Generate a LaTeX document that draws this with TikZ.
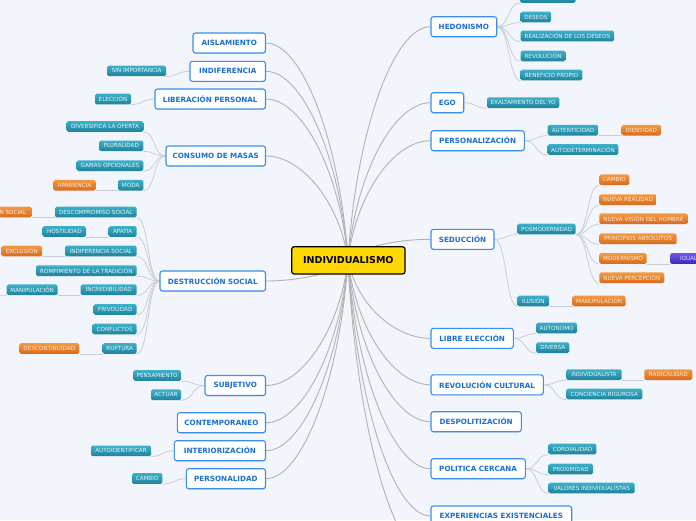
\documentclass[tikz,border=0pt]{standalone}
\usepackage{fontspec}
\usetikzlibrary{calc,shadows}
\newfontfamily\djv{DejaVu Sans}
\definecolor{bgcol}{HTML}{F2F5FC}
\definecolor{mborder}{HTML}{3B8EEA}
\definecolor{mtext}{HTML}{1B6ED6}
\definecolor{tealA}{HTML}{3DB0C9}
\definecolor{tealB}{HTML}{1F839C}
\definecolor{tealT}{HTML}{E6F4F8}
\definecolor{orA}{HTML}{F39A42}
\definecolor{orB}{HTML}{D86A1C}
\definecolor{orT}{HTML}{FDE8D4}
\definecolor{puA}{HTML}{6B57E8}
\definecolor{puB}{HTML}{3C25B5}
\definecolor{puT}{HTML}{E8E4FF}
\definecolor{gold}{HTML}{FFD800}
\definecolor{mline}{HTML}{B2B2B2}
\definecolor{sline}{HTML}{C8CDD7}
\pgfdeclarelayer{bg}
\pgfdeclarelayer{lines}
\pgfsetlayers{bg,lines,main}
\tikzset{
  mainbox/.style={draw=mborder, line width=1.1pt, fill=white, rounded corners=2.5pt,
    inner sep=0pt, minimum height=20pt, text=mtext,
    font=\djv\bfseries\fontsize{7.2}{8}\selectfont,
    drop shadow={opacity=0.18, shadow xshift=0.4pt, shadow yshift=-0.9pt}},
  centerbox/.style={draw=black, line width=1.2pt, fill=gold, rounded corners=2.5pt,
    inner sep=0pt, minimum height=27.3pt, minimum width=113.3pt, text=black,
    font=\djv\bfseries\fontsize{9.5}{11}\selectfont},
  subbox/.style={rounded corners=1.6pt, inner sep=0pt, minimum height=10.7pt,
    font=\djv\fontsize{5.65}{6.5}\selectfont},
  tealbox/.style={subbox, top color=tealA, bottom color=tealB, text=tealT},
  orbox/.style={subbox, top color=orA, bottom color=orB, text=orT},
  pubox/.style={subbox, top color=puA, bottom color=puB, text=puT},
  mainline/.style={draw=mline, line width=0.9pt},
  subline/.style={draw=sline, line width=0.8pt}
}
\newcommand\Lc[2]{\draw[subline] (#1.west) .. controls ($(#1.west)+(-12,0)$) and ($(#2.south east)+(12,0)$) .. (#2.south east);}
\newcommand\Rc[2]{\draw[subline] (#1.east) .. controls ($(#1.east)+(12,0)$) and ($(#2.south west)+(-12,0)$) .. (#2.south west);}
\newcommand\Pc[2]{\draw[subline] (#1.south east) .. controls ($(#1.south east)+(12,0)$) and ($(#2.south west)+(-12,0)$) .. (#2.south west);}
\newcommand\Ls[2]{\draw[subline] (#1.south west) -- (#2.south east);}
\newcommand\Rs[2]{\draw[subline] (#1.south east) -- (#2.south west);}
\begin{document}
\begin{tikzpicture}[x=1pt,y=-1pt]
\useasboundingbox (0,0) rectangle (696,520);
\begin{pgfonlayer}{bg}
\fill[bgcol] (0,0) rectangle (696,520);
\end{pgfonlayer}
% center
\coordinate (ctr) at (348,260);
\node[centerbox] (center) at (348.35,260.35) {INDIVIDUALISMO};
% left main nodes
\node[mainbox, minimum width=72.5pt] (aisl) at (229.25,43) {AISLAMIENTO};
\node[mainbox, minimum width=75.5pt] (indif) at (227.75,71.3) {INDIFERENCIA};
\node[mainbox, minimum width=110.5pt] (liber) at (210.25,99) {LIBERACIÓN PERSONAL};
\node[mainbox, minimum width=99.5pt] (consumo) at (215.75,156) {CONSUMO DE MASAS};
\node[mainbox, minimum width=105.5pt] (destr) at (212.75,281) {DESTRUCCIÓN SOCIAL};
\node[mainbox, minimum width=60.5pt] (subj) at (235.25,385.5) {SUBJETIVO};
\node[mainbox, minimum width=88.2pt] (contemp) at (221.4,422.7) {CONTEMPORANEO};
\node[mainbox, minimum width=91.2pt] (interior) at (219.9,450.7) {INTERIORIZACIÓN};
\node[mainbox, minimum width=79.2pt] (personal) at (225.9,478.7) {PERSONALIDAD};
% right main nodes
\node[mainbox, minimum width=65.7pt] (hedon) at (463.85,26.7) {HEDONISMO};
\node[mainbox, minimum width=32.7pt] (ego) at (447.35,102.7) {EGO};
\node[mainbox, minimum width=93.3pt] (persz) at (477.65,140.7) {PERSONALIZACIÓN};
\node[mainbox, minimum width=63pt] (seduc) at (462.5,239.3) {SEDUCCIÓN};
\node[mainbox, minimum width=82.3pt] (libre) at (472.15,338.3) {LIBRE ELECCIÓN};
\node[mainbox, minimum width=112.3pt] (revol) at (487.15,384.8) {REVOLUCIÓN CULTURAL};
\node[mainbox, minimum width=90.3pt] (despol) at (476.15,421.7) {DESPOLITIZACIÓN};
\node[mainbox, minimum width=94.3pt] (polit) at (478.15,468.7) {POLITICA CERCANA};
\node[mainbox, minimum width=140.7pt] (exper) at (501.35,516) {EXPERIENCIAS EXISTENCIALES};
\coordinate (offb) at (431,560);
% left sub nodes
\node[tealbox, minimum width=58.7pt] (sinimp) at (136.65,70.85) {SIN IMPORTANCIA};
\node[tealbox, minimum width=36pt] (elecc) at (113,99) {ELECCIÓN};
\node[tealbox, minimum width=76.6pt] (divers) at (105,126.5) {DIVERSIFICA LA OFERTA};
\node[tealbox, minimum width=44pt] (plural) at (121.3,145.85) {PLURALIDAD};
\node[tealbox, minimum width=66.6pt] (gamas) at (110,165.65) {GAMAS OPCIONALES};
\node[tealbox, minimum width=25.3pt] (moda) at (130.65,185.2) {MODA};
\node[orbox, minimum width=42.4pt] (apar) at (74.5,185.2) {APARIENCIA};
\node[tealbox, minimum width=81.7pt] (descomp) at (95.85,212) {DESCOMPROMISO SOCIAL};
\node[orbox, minimum width=84pt] (nsoc) at (-10.3,212) {DESINTEGRACIÓN SOCIAL};
\node[tealbox, minimum width=43.3pt] (hostil) at (64.35,231.5) {HOSTILIDAD};
\node[tealbox, minimum width=28pt] (apatia) at (122.7,231.5) {APATIA};
\node[orbox, minimum width=40.3pt] (exclu) at (21.85,251) {EXCLUSIÓN};
\node[tealbox, minimum width=71.7pt] (indsoc) at (100.85,251) {INDIFERENCIA SOCIAL};
\node[tealbox, minimum width=100.7pt] (rompi) at (86.35,270.65) {ROMPIMIENTO DE LA TRADICIÓN};
\node[tealbox, minimum width=51pt] (manip) at (32.2,289.8) {MANIPULACIÓN};
\node[tealbox, minimum width=56pt] (incred) at (108.7,289.8) {INCREDIBILIDAD};
\coordinate (offl) at (-30,295.15);
\node[tealbox, minimum width=43pt] (frivol) at (115.2,309.5) {FRIVOLIDAD};
\node[tealbox, minimum width=44pt] (confl) at (114.7,329) {CONFLICTOS};
\node[tealbox, minimum width=34pt] (ruptura) at (119.7,348.5) {RUPTURA};
\node[orbox, minimum width=60pt] (descont) at (49.3,348.5) {DESCONTINUIDAD};
\node[tealbox, minimum width=47.7pt] (pensam) at (157.15,375.5) {PENSAMIENTO};
\node[tealbox, minimum width=30pt] (actuar) at (166,394.8) {ACTUAR};
\node[tealbox, minimum width=60pt] (autoid) at (121,450.85) {AUTOIDENTIFICAR};
\node[tealbox, minimum width=30.3pt] (cambioa) at (147.15,478.5) {CAMBIO};
% right sub nodes
\node[tealbox, minimum width=55.7pt] (hedtop) at (547.85,-2.6) {};
\node[tealbox, minimum width=30.3pt] (deseos) at (535.85,17) {DESEOS};
\node[tealbox, minimum width=93.3pt] (realiz) at (567.35,36) {REALIZACIÓN DE LOS DESEOS};
\node[tealbox, minimum width=44.6pt] (revolu) at (543,56) {REVOLUCIÓN};
\node[tealbox, minimum width=61.6pt] (benef) at (551.5,75) {BENEFICIO PROPIO};
\node[tealbox, minimum width=72.3pt] (exalt) at (523.15,102.65) {EXALTAMIENTO DEL YO};
\node[tealbox, minimum width=50.6pt] (autent) at (573,130.15) {AUTENTICIDAD};
\node[orbox, minimum width=39.3pt] (ident) at (641.35,130.15) {IDENTIDAD};
\node[tealbox, minimum width=70.6pt] (autodet) at (583,149.5) {AUTODETERMINACIÓN};
\node[tealbox, minimum width=58pt] (posmod) at (546.7,229) {POSMODERNIDAD};
\node[orbox, minimum width=30pt] (cambiob) at (614.3,179.8) {CAMBIO};
\node[orbox, minimum width=57.4pt] (nreal) at (628,199.65) {NUEVA REALIDAD};
\node[orbox, minimum width=88.4pt] (nvis) at (643.5,218.8) {NUEVA VISIÓN DEL HOMBRE};
\node[orbox, minimum width=77.4pt] (princ) at (638,238.8) {PRINCIPIOS ABSOLUTOS};
\node[orbox, minimum width=47.4pt] (modern) at (623,258.5) {MODERNISMO};
\node[pubox, minimum width=50pt] (igual) at (695,258.5) {IGUALDAD};
\node[orbox, minimum width=65pt] (nperc) at (631.8,277.8) {NUEVA PERCEPCIÓN};
\node[tealbox, minimum width=31.3pt] (ilusion) at (533.35,301) {ILUSIÓN};
\node[orbox, minimum width=53pt] (manup) at (599.2,301) {MANUPULACIÓN};
\node[tealbox, minimum width=40.7pt] (autonom) at (556.65,328) {AUTONOMO};
\node[tealbox, minimum width=33pt] (diversa) at (552.8,347.65) {DIVERSA};
\node[tealbox, minimum width=55.4pt] (individ) at (594,374.65) {INDIVIDUALISTA};
\node[orbox, minimum width=48pt] (radic) at (668.3,374.65) {RADICALIDAD};
\node[tealbox, minimum width=76pt] (concien) at (604.3,394) {CONCIENCIA RIGUROSA};
\node[tealbox, minimum width=47.6pt] (cordial) at (572.5,449) {CORDIALIDAD};
\node[tealbox, minimum width=44.3pt] (proxim) at (570.85,469) {PROXIMIDAD};
\node[tealbox, minimum width=86pt] (valores) at (591.7,488) {VALORES INDIVIDUALISTAS};
% connectors
\begin{pgfonlayer}{lines}
\draw[mainline] (ctr) .. controls (340,141) and (302,43) .. (aisl.east);
\draw[mainline] (ctr) .. controls (340,156) and (302,71.3) .. (indif.east);
\draw[mainline] (ctr) .. controls (340,171) and (302,99) .. (liber.east);
\draw[mainline] (ctr) .. controls (340,203) and (302,156) .. (consumo.east);
\draw[mainline] (ctr) .. controls (340,271.5) and (302,281) .. (destr.east);
\draw[mainline] (ctr) .. controls (340,329) and (302,385.5) .. (subj.east);
\draw[mainline] (ctr) .. controls (340,349.5) and (302,422.7) .. (contemp.east);
\draw[mainline] (ctr) .. controls (340,365) and (302,450.7) .. (interior.east);
\draw[mainline] (ctr) .. controls (340,380) and (302,478.7) .. (personal.east);
\draw[mainline] (ctr) .. controls (356,131.7) and (393.6,26.7) .. (hedon.west);
\draw[mainline] (ctr) .. controls (356,173.5) and (393.6,102.7) .. (ego.west);
\draw[mainline] (ctr) .. controls (356,194.4) and (393.6,140.7) .. (persz.west);
\draw[mainline] (ctr) .. controls (356,248.6) and (393.6,239.3) .. (seduc.west);
\draw[mainline] (ctr) .. controls (356,303) and (393.6,338.3) .. (libre.west);
\draw[mainline] (ctr) .. controls (356,328.6) and (393.6,384.8) .. (revol.west);
\draw[mainline] (ctr) .. controls (356,349) and (393.6,421.7) .. (despol.west);
\draw[mainline] (ctr) .. controls (356,374.8) and (393.6,468.7) .. (polit.west);
\draw[mainline] (ctr) .. controls (356,400.8) and (393.6,516) .. (exper.west);
\draw[mainline] (ctr) .. controls (356,425) and (393.6,560) .. (offb);
% left sub connectors
\Lc{indif}{sinimp}
\Lc{liber}{elecc}
\Lc{consumo}{divers}
\Lc{consumo}{plural}
\Lc{consumo}{gamas}
\Lc{consumo}{moda}
\Ls{moda}{apar}
\Lc{destr}{descomp}
\Lc{destr}{apatia}
\Lc{destr}{indsoc}
\Lc{destr}{rompi}
\Lc{destr}{incred}
\Lc{destr}{frivol}
\Lc{destr}{confl}
\Lc{destr}{ruptura}
\Ls{descomp}{nsoc}
\Ls{apatia}{hostil}
\Ls{indsoc}{exclu}
\Ls{incred}{manip}
\draw[subline] (manip.south west) -- (offl);
\Ls{ruptura}{descont}
\Lc{subj}{pensam}
\Lc{subj}{actuar}
\Lc{interior}{autoid}
\Lc{personal}{cambioa}
% right sub connectors
\Rc{hedon}{hedtop}
\Rc{hedon}{deseos}
\Rc{hedon}{realiz}
\Rc{hedon}{revolu}
\Rc{hedon}{benef}
\Rc{ego}{exalt}
\Rc{persz}{autent}
\Rc{persz}{autodet}
\Rs{autent}{ident}
\Rc{seduc}{posmod}
\Rc{seduc}{ilusion}
\Pc{posmod}{cambiob}
\Pc{posmod}{nreal}
\Pc{posmod}{nvis}
\Pc{posmod}{princ}
\Pc{posmod}{modern}
\Pc{posmod}{nperc}
\Rs{modern}{igual}
\Rs{ilusion}{manup}
\Rc{libre}{autonom}
\Rc{libre}{diversa}
\Rc{revol}{individ}
\Rc{revol}{concien}
\Rs{individ}{radic}
\Rc{polit}{cordial}
\Rc{polit}{proxim}
\Rc{polit}{valores}
\end{pgfonlayer}
\end{tikzpicture}
\end{document}
